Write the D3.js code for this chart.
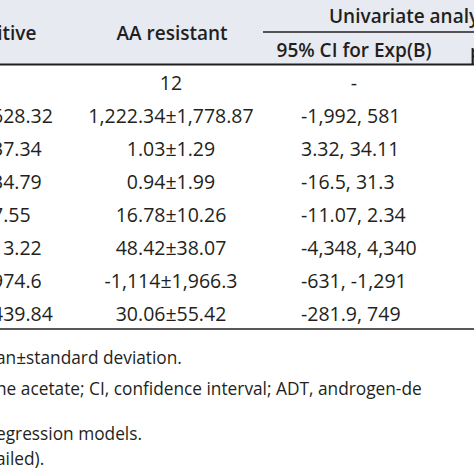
<!DOCTYPE html>
<html><head><meta charset="utf-8">
<script src="https://cdn.jsdelivr.net/npm/d3@7"></script>
<style>body{margin:0;background:#fff}svg{display:block;font-family:"Open Sans",sans-serif}</style>
</head><body><svg id="t" width="474" height="474"></svg>
<script>
// visible cells of the table crop
const col1 = ["", "628.32", "37.34", "34.79", "7.55", "13.22", "974.6", "439.84"];
const col2 = ["12", "1,222.34±1,778.87", "1.03±1.29", "0.94±1.99", "16.78±10.26", "48.42±38.07", "-1,114±1,966.3", "30.06±55.42"];
const col3 = ["-", "-1,992, 581", "3.32, 34.11", "-16.5, 31.3", "-11.07, 2.34", "-4,348, 4,340", "-631, -1,291", "-281.9, 749"];
const notes = ["an±standard deviation.", "ne acetate; CI, confidence interval; ADT, androgen-de", "", "egression models.", "ailed)."];

const svg = d3.select("#t");
const ink = "#231f20";

// header band
svg.append("rect").attr("width", 474).attr("height", 64).attr("fill", "#e7eaf1");
svg.append("line").attr("x1", 0).attr("x2", 474).attr("y1", 64.5).attr("y2", 64.5).attr("stroke", ink).attr("stroke-width", 2);
svg.append("line").attr("x1", 263).attr("x2", 474).attr("y1", 32).attr("y2", 32).attr("stroke", ink).attr("stroke-width", 1.3);

const head = svg.append("g").attr("font-weight", 600).attr("font-size", 19).attr("fill", ink).attr("dominant-baseline", "central");
head.append("text").attr("x", -12).attr("y", 33).text("sitive");
head.append("text").attr("x", 172).attr("y", 33).attr("text-anchor", "middle").text("AA resistant");
head.append("text").attr("x", 329).attr("y", 16).text("Univariate analy");
head.append("text").attr("x", 354).attr("y", 50).attr("text-anchor", "middle").text("95% CI for Exp(B)");
head.append("text").attr("x", 470).attr("y", 52).text("p");

// body rows
const y = d3.scaleBand().domain(d3.range(col2.length)).range([66, 330]);
const body = svg.append("g").attr("font-size", 19.5).attr("fill", ink).attr("dominant-baseline", "central");
const cy = i => y(i) + y.bandwidth() / 2;
body.selectAll(".c1").data(col1).join("text").attr("x", -8).attr("y", (d, i) => cy(i)).text(d => d);
body.selectAll(".c2").data(col2).join("text").attr("x", 171).attr("y", (d, i) => cy(i)).attr("text-anchor", "middle").text(d => d);
body.selectAll(".c3").data(col3).join("text")
  .attr("x", d => d === "-" ? 354 : 301).attr("y", (d, i) => cy(i))
  .attr("text-anchor", d => d === "-" ? "middle" : "start").text(d => d);

svg.append("line").attr("x1", 0).attr("x2", 474).attr("y1", 329).attr("y2", 329).attr("stroke", ink).attr("stroke-width", 1.5);

// footnotes
const ny = [357, 388, 411, 433, 458];
svg.append("g").attr("font-size", 17.3).attr("fill", ink).attr("dominant-baseline", "central")
  .selectAll("text").data(notes).join("text").attr("x", -4).attr("y", (d, i) => ny[i]).text(d => d);
</script></body></html>
